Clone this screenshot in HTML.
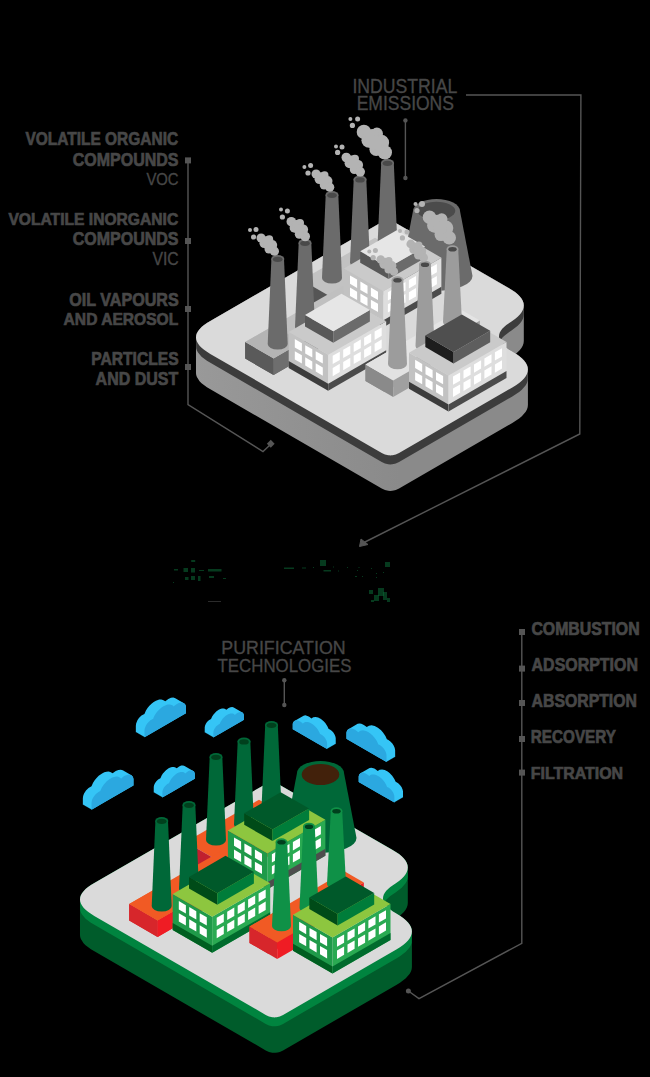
<!DOCTYPE html>
<html><head><meta charset="utf-8"><style>
html,body{margin:0;padding:0;background:#000;width:650px;height:1077px;overflow:hidden}
svg{position:absolute;left:0;top:0}
</style></head><body>
<svg width="650" height="1077" viewBox="0 0 650 1077">
<defs><linearGradient id="gside" gradientUnits="userSpaceOnUse" x1="180" y1="0" x2="400" y2="0"><stop offset="0" stop-color="#9a9a9a"/><stop offset="1" stop-color="#8a8a8a"/></linearGradient></defs>
<path d="M195.99,337.40 L195.99,372.90 L196.21,374.96 L196.88,377.03 L199.56,381.15 L201.57,383.21 L206.93,387.34 L381.74,488.40 L384.99,489.92 L388.23,490.74 L390.40,490.90 L393.65,490.55 L395.81,489.92 L399.06,488.40 L512.32,423.00 L519.14,418.50 L521.82,416.25 L525.72,411.75 L526.94,409.50 L527.67,407.25 L527.91,405.00 L527.91,369.50 L527.67,367.25 L526.94,365.00 L525.72,362.75 L524.01,360.50 L521.82,358.25 L515.98,353.75 L519.89,350.07 L521.60,347.83 L522.82,345.58 L523.55,343.34 L523.80,341.09 L523.80,305.59 L523.56,303.35 L522.83,301.10 L521.61,298.86 L517.71,294.37 L511.86,289.88 L508.20,287.63 L396.67,223.39 L393.42,221.87 L390.17,221.05 L386.92,220.94 L384.75,221.25 L382.59,221.87 L379.34,223.40 L206.94,322.97 L201.58,327.09 L199.57,329.16 L196.88,333.28 L196.21,335.34 L195.99,337.40Z " fill="url(#gside)"/>
<path d="M195.99,341.90 L196.21,348.46 L196.88,350.53 L198.00,352.59 L201.57,356.71 L206.93,360.84 L381.74,461.90 L384.99,463.42 L388.23,464.24 L390.40,464.40 L393.65,464.05 L395.81,463.42 L399.06,461.90 L512.32,396.50 L519.14,392.00 L521.82,389.75 L525.72,385.25 L526.94,383.00 L527.67,380.75 L527.91,369.50 L527.67,367.25 L526.94,365.00 L525.72,362.75 L524.01,360.50 L519.14,356.00 L508.94,349.43 L504.07,345.68 L502.24,343.80 L500.22,340.82 L502.25,337.83 L504.08,335.96 L508.96,332.22 L512.01,330.35 L508.19,332.54 L511.85,330.30 L517.70,325.81 L519.89,323.57 L521.60,321.33 L522.82,319.08 L523.55,316.84 L523.80,314.59 L523.56,303.35 L522.83,301.10 L521.61,298.86 L519.90,296.61 L515.03,292.12 L508.20,287.63 L396.67,223.39 L393.42,221.87 L390.17,221.05 L386.92,220.94 L384.75,221.25 L382.59,221.87 L379.34,223.40 L206.94,322.97 L201.58,327.09 L198.00,331.22 L196.88,333.28 L196.21,335.34 L195.99,341.90Z " fill="#3c3c3c"/>
<path d="M379.34,223.40 L380.42,222.81 L381.50,222.30 L382.59,221.87 L383.67,221.52 L384.75,221.25 L385.83,221.05 L386.92,220.94 L388.00,220.90 L389.08,220.94 L390.17,221.05 L391.25,221.25 L392.33,221.52 L393.42,221.87 L394.50,222.30 L395.58,222.81 L396.67,223.39 L508.20,287.63 L511.86,289.88 L515.03,292.12 L517.71,294.37 L519.90,296.61 L521.61,298.86 L522.83,301.10 L523.56,303.35 L523.80,305.59 L523.55,307.84 L522.82,310.08 L521.60,312.33 L519.89,314.57 L517.70,316.81 L515.02,319.06 L511.85,321.30 L508.19,323.54 L512.01,321.35 L508.96,323.22 L506.32,325.09 L504.08,326.96 L502.25,328.83 L500.83,330.70 L499.81,332.57 L499.20,334.44 L499.00,336.31 L499.20,338.18 L499.81,340.06 L500.82,341.93 L502.24,343.80 L504.07,345.68 L506.30,347.55 L508.94,349.43 L511.98,351.30 L512.32,351.50 L515.98,353.75 L519.14,356.00 L521.82,358.25 L524.01,360.50 L525.72,362.75 L526.94,365.00 L527.67,367.25 L527.91,369.50 L527.67,371.75 L526.94,374.00 L525.72,376.25 L524.01,378.50 L521.82,380.75 L519.14,383.00 L515.98,385.25 L512.32,387.50 L399.06,452.90 L397.98,453.49 L396.90,453.99 L395.81,454.42 L394.73,454.77 L393.65,455.05 L392.57,455.24 L391.48,455.36 L390.40,455.40 L389.32,455.36 L388.23,455.24 L387.15,455.05 L386.07,454.77 L384.99,454.42 L383.90,453.99 L382.82,453.49 L381.74,452.90 L210.28,353.90 L206.93,351.84 L204.03,349.78 L201.57,347.71 L199.56,345.65 L198.00,343.59 L196.88,341.53 L196.21,339.46 L195.99,337.40 L196.21,335.34 L196.88,333.28 L198.00,331.22 L199.57,329.16 L201.58,327.09 L204.03,325.03 L206.94,322.97 L210.29,320.91 L379.34,223.40Z " fill="#dadada"/>
<polygon points="301.7,280.0 375.0,237.7 428.7,268.7 355.4,311.0" fill="#c2c2c2"/>
<polygon points="301.7,280.0 355.4,311.0 355.4,331.0 301.7,300.0" fill="#555555"/>
<path d="M413.0,211.0 L400.5,276.0 A36.0,15.0 0 0 0 472.5,276.0 L460.0,211.0 Z" fill="#6b6b6b"/>
<ellipse cx="436.5" cy="211.0" rx="23.5" ry="12.0" fill="#6b6b6b"/>
<ellipse cx="436.5" cy="210.8" rx="18.8" ry="9.0" fill="#4b4b4b"/>
<polygon points="273.6,375.0 245.2,358.6 245.2,342.1 273.6,358.5" fill="#5a5a5a"/>
<polygon points="273.6,375.0 371.3,318.6 371.3,302.1 273.6,358.5" fill="#6e6e6e"/>
<polygon points="273.6,358.5 245.2,342.1 342.9,285.7 371.3,302.1" fill="#c0c0c0"/>
<path d="M325.7,195.0 L322.0,278.0 A10.0,5.6 0 0 0 342.0,278.0 L338.3,195.0 Z" fill="#6b6b6b"/>
<ellipse cx="332.0" cy="195.0" rx="6.6" ry="4.0" fill="#6b6b6b"/>
<ellipse cx="332.0" cy="195.3" rx="4.8" ry="2.6" fill="#494949"/>
<path d="M353.7,179.6 L350.0,262.6 A10.0,5.6 0 0 0 370.0,262.6 L366.3,179.6 Z" fill="#6b6b6b"/>
<ellipse cx="360.0" cy="179.6" rx="6.6" ry="4.0" fill="#6b6b6b"/>
<ellipse cx="360.0" cy="179.9" rx="4.8" ry="2.6" fill="#494949"/>
<path d="M381.2,163.0 L377.5,246.0 A10.0,5.6 0 0 0 397.5,246.0 L393.8,163.0 Z" fill="#6b6b6b"/>
<ellipse cx="387.5" cy="163.0" rx="6.6" ry="4.0" fill="#6b6b6b"/>
<ellipse cx="387.5" cy="163.3" rx="4.8" ry="2.6" fill="#494949"/>
<polygon points="383.4,327.2 343.9,304.4 343.9,268.4 383.4,291.2" fill="#c2c2c2"/>
<polygon points="383.4,327.2 343.9,304.4 343.9,297.4 383.4,320.2" fill="#3c3c3c"/>
<polygon points="383.4,327.2 441.4,293.7 441.4,257.7 383.4,291.2" fill="#dedede"/>
<polygon points="383.4,327.2 441.4,293.7 441.4,286.7 383.4,320.2" fill="#4b4b4b"/>
<polygon points="383.4,291.2 343.9,268.4 401.9,234.9 441.4,257.7" fill="#cacaca"/>
<polygon points="350.0,275.5 357.1,279.6 357.1,287.9 350.0,283.8" fill="#ffffff"/>
<polygon points="360.4,281.6 367.5,285.7 367.5,294.0 360.4,289.9" fill="#ffffff"/>
<polygon points="370.9,287.6 378.0,291.7 378.0,300.0 370.9,295.9" fill="#ffffff"/>
<polygon points="350.0,287.6 357.1,291.7 357.1,300.0 350.0,295.9" fill="#ffffff"/>
<polygon points="360.4,293.6 367.5,297.8 367.5,306.1 360.4,301.9" fill="#ffffff"/>
<polygon points="370.9,299.7 378.0,303.8 378.0,312.1 370.9,308.0" fill="#ffffff"/>
<polygon points="387.9,292.2 395.0,288.1 395.0,296.4 387.9,300.5" fill="#ffffff"/>
<polygon points="398.4,286.2 405.5,282.1 405.5,290.4 398.4,294.5" fill="#ffffff"/>
<polygon points="408.9,280.1 416.0,276.0 416.0,284.3 408.9,288.4" fill="#ffffff"/>
<polygon points="419.3,274.1 426.4,269.9 426.4,278.2 419.3,282.4" fill="#ffffff"/>
<polygon points="429.8,268.0 436.9,263.9 436.9,272.2 429.8,276.3" fill="#ffffff"/>
<polygon points="387.9,304.3 395.0,300.2 395.0,308.5 387.9,312.6" fill="#ffffff"/>
<polygon points="398.4,298.2 405.5,294.1 405.5,302.4 398.4,306.6" fill="#ffffff"/>
<polygon points="408.9,292.2 416.0,288.1 416.0,296.4 408.9,300.5" fill="#ffffff"/>
<polygon points="419.3,286.1 426.4,282.0 426.4,290.3 419.3,294.4" fill="#ffffff"/>
<polygon points="429.8,280.1 436.9,276.0 436.9,284.3 429.8,288.4" fill="#ffffff"/>
<polygon points="388.5,279.1 360.2,262.8 360.2,251.3 388.5,267.6" fill="#585858"/>
<polygon points="388.5,279.1 425.1,258.0 425.1,246.5 388.5,267.6" fill="#6b6b6b"/>
<polygon points="388.5,267.6 360.2,251.3 396.7,230.2 425.1,246.5" fill="#e6e6e6"/>
<polygon points="273.6,375.0 245.2,358.6 245.2,342.1 273.6,358.5" fill="#5a5a5a"/>
<polygon points="273.6,375.0 302.0,358.6 302.0,342.1 273.6,358.5" fill="#6e6e6e"/>
<polygon points="273.6,358.5 245.2,342.1 273.6,325.7 302.0,342.1" fill="#b4b4b4"/>
<path d="M271.4,259.0 L267.7,344.0 A10.0,5.6 0 0 0 287.7,344.0 L284.0,259.0 Z" fill="#6b6b6b"/>
<ellipse cx="277.7" cy="259.0" rx="6.6" ry="4.0" fill="#6b6b6b"/>
<ellipse cx="277.7" cy="259.3" rx="4.8" ry="2.6" fill="#494949"/>
<path d="M298.7,243.0 L295.0,327.0 A10.0,5.6 0 0 0 315.0,327.0 L311.3,243.0 Z" fill="#6b6b6b"/>
<ellipse cx="305.0" cy="243.0" rx="6.6" ry="4.0" fill="#6b6b6b"/>
<ellipse cx="305.0" cy="243.3" rx="4.8" ry="2.6" fill="#494949"/>
<polygon points="328.2,390.8 288.7,368.0 288.7,332.0 328.2,354.8" fill="#c2c2c2"/>
<polygon points="328.2,390.8 288.7,368.0 288.7,361.0 328.2,383.8" fill="#3c3c3c"/>
<polygon points="328.2,390.8 386.2,357.3 386.2,321.3 328.2,354.8" fill="#dedede"/>
<polygon points="328.2,390.8 386.2,357.3 386.2,350.3 328.2,383.8" fill="#4b4b4b"/>
<polygon points="328.2,354.8 288.7,332.0 346.7,298.5 386.2,321.3" fill="#cacaca"/>
<polygon points="294.8,339.1 301.9,343.2 301.9,351.5 294.8,347.4" fill="#ffffff"/>
<polygon points="305.2,345.2 312.3,349.3 312.3,357.6 305.2,353.5" fill="#ffffff"/>
<polygon points="315.7,351.2 322.8,355.3 322.8,363.6 315.7,359.5" fill="#ffffff"/>
<polygon points="294.8,351.2 301.9,355.3 301.9,363.6 294.8,359.5" fill="#ffffff"/>
<polygon points="305.2,357.2 312.3,361.4 312.3,369.7 305.2,365.6" fill="#ffffff"/>
<polygon points="315.7,363.3 322.8,367.4 322.8,375.7 315.7,371.6" fill="#ffffff"/>
<polygon points="332.7,355.8 339.8,351.7 339.8,360.0 332.7,364.1" fill="#ffffff"/>
<polygon points="343.2,349.8 350.3,345.7 350.3,354.0 343.2,358.1" fill="#ffffff"/>
<polygon points="353.7,343.7 360.8,339.6 360.8,347.9 353.7,352.0" fill="#ffffff"/>
<polygon points="364.1,337.7 371.2,333.6 371.2,341.9 364.1,346.0" fill="#ffffff"/>
<polygon points="374.6,331.6 381.7,327.5 381.7,335.8 374.6,339.9" fill="#ffffff"/>
<polygon points="332.7,367.9 339.8,363.8 339.8,372.1 332.7,376.2" fill="#ffffff"/>
<polygon points="343.2,361.9 350.3,357.8 350.3,366.1 343.2,370.2" fill="#ffffff"/>
<polygon points="353.7,355.8 360.8,351.7 360.8,360.0 353.7,364.1" fill="#ffffff"/>
<polygon points="364.1,349.8 371.2,345.6 371.2,353.9 364.1,358.1" fill="#ffffff"/>
<polygon points="374.6,343.7 381.7,339.6 381.7,347.9 374.6,352.0" fill="#ffffff"/>
<polygon points="333.3,342.8 305.0,326.4 305.0,314.9 333.3,331.2" fill="#585858"/>
<polygon points="333.3,342.8 369.9,321.6 369.9,310.1 333.3,331.2" fill="#6b6b6b"/>
<polygon points="333.3,331.2 305.0,314.9 341.5,293.8 369.9,310.1" fill="#e6e6e6"/>
<polygon points="384.6,392.0 365.5,381.0 365.5,364.5 384.6,375.5" fill="#8a8a8a"/>
<polygon points="384.6,392.0 479.8,337.0 479.8,320.5 384.6,375.5" fill="#a0a0a0"/>
<polygon points="384.6,375.5 365.5,364.5 460.8,309.5 479.8,320.5" fill="#e4e4e4"/>
<path d="M446.8,249.0 L443.0,322.0 A9.5,5.3 0 0 0 462.0,322.0 L458.2,249.0 Z" fill="#9c9c9c"/>
<ellipse cx="452.5" cy="249.0" rx="6.0" ry="3.7" fill="#9c9c9c"/>
<ellipse cx="452.5" cy="249.3" rx="4.2" ry="2.3" fill="#494949"/>
<path d="M419.2,264.4 L415.5,346.0 A9.5,5.3 0 0 0 434.5,346.0 L430.8,264.4 Z" fill="#9c9c9c"/>
<ellipse cx="425.0" cy="264.4" rx="6.0" ry="3.7" fill="#9c9c9c"/>
<ellipse cx="425.0" cy="264.7" rx="4.2" ry="2.3" fill="#494949"/>
<polygon points="393.2,397.0 365.5,381.0 365.5,364.5 393.2,380.5" fill="#8a8a8a"/>
<polygon points="393.2,397.0 420.9,381.0 420.9,364.5 393.2,380.5" fill="#a0a0a0"/>
<polygon points="393.2,380.5 365.5,364.5 393.2,348.5 420.9,364.5" fill="#e2e2e2"/>
<path d="M391.8,280.0 L388.0,364.0 A9.5,5.3 0 0 0 407.0,364.0 L403.2,280.0 Z" fill="#9c9c9c"/>
<ellipse cx="397.5" cy="280.0" rx="6.0" ry="3.7" fill="#9c9c9c"/>
<ellipse cx="397.5" cy="280.3" rx="4.2" ry="2.3" fill="#494949"/>
<polygon points="448.5,411.5 409.0,388.7 409.0,352.7 448.5,375.5" fill="#c2c2c2"/>
<polygon points="448.5,411.5 409.0,388.7 409.0,381.7 448.5,404.5" fill="#3c3c3c"/>
<polygon points="448.5,411.5 506.5,378.0 506.5,342.0 448.5,375.5" fill="#dedede"/>
<polygon points="448.5,411.5 506.5,378.0 506.5,371.0 448.5,404.5" fill="#4b4b4b"/>
<polygon points="448.5,375.5 409.0,352.7 467.0,319.2 506.5,342.0" fill="#cacaca"/>
<polygon points="415.1,359.8 422.2,363.9 422.2,372.2 415.1,368.1" fill="#ffffff"/>
<polygon points="425.5,365.9 432.6,370.0 432.6,378.3 425.5,374.2" fill="#ffffff"/>
<polygon points="436.0,371.9 443.1,376.0 443.1,384.3 436.0,380.2" fill="#ffffff"/>
<polygon points="415.1,371.9 422.2,376.0 422.2,384.3 415.1,380.2" fill="#ffffff"/>
<polygon points="425.5,377.9 432.6,382.1 432.6,390.4 425.5,386.2" fill="#ffffff"/>
<polygon points="436.0,384.0 443.1,388.1 443.1,396.4 436.0,392.3" fill="#ffffff"/>
<polygon points="453.0,376.5 460.1,372.4 460.1,380.7 453.0,384.8" fill="#ffffff"/>
<polygon points="463.5,370.5 470.6,366.4 470.6,374.7 463.5,378.8" fill="#ffffff"/>
<polygon points="474.0,364.4 481.1,360.3 481.1,368.6 474.0,372.7" fill="#ffffff"/>
<polygon points="484.4,358.4 491.5,354.2 491.5,362.6 484.4,366.7" fill="#ffffff"/>
<polygon points="494.9,352.3 502.0,348.2 502.0,356.5 494.9,360.6" fill="#ffffff"/>
<polygon points="453.0,388.6 460.1,384.5 460.1,392.8 453.0,396.9" fill="#ffffff"/>
<polygon points="463.5,382.6 470.6,378.4 470.6,386.8 463.5,390.9" fill="#ffffff"/>
<polygon points="474.0,376.5 481.1,372.4 481.1,380.7 474.0,384.8" fill="#ffffff"/>
<polygon points="484.4,370.4 491.5,366.3 491.5,374.6 484.4,378.8" fill="#ffffff"/>
<polygon points="494.9,364.4 502.0,360.3 502.0,368.6 494.9,372.7" fill="#ffffff"/>
<polygon points="453.6,363.4 425.3,347.1 425.3,335.6 453.6,351.9" fill="#1d1d1d"/>
<polygon points="453.6,363.4 490.2,342.3 490.2,330.8 453.6,351.9" fill="#5e5e5e"/>
<polygon points="453.6,351.9 425.3,335.6 461.8,314.5 490.2,330.8" fill="#4f4f4f"/>
<circle cx="250.0" cy="230.0" r="2.0" fill="#b3b3b3"/>
<circle cx="256.0" cy="229.6" r="2.5" fill="#b3b3b3"/>
<circle cx="253.6" cy="237.0" r="2.6" fill="#b3b3b3"/>
<circle cx="261.1" cy="238.1" r="4.6" fill="#b3b3b3"/>
<circle cx="269.3" cy="239.2" r="3.9" fill="#b3b3b3"/>
<circle cx="264.3" cy="243.3" r="4.8" fill="#b3b3b3"/>
<circle cx="272.1" cy="245.0" r="5.1" fill="#b3b3b3"/>
<circle cx="274.4" cy="251.2" r="4.6" fill="#b3b3b3"/>
<circle cx="268.9" cy="249.1" r="4.4" fill="#b3b3b3"/>
<circle cx="266.4" cy="240.6" r="4.4" fill="#b3b3b3"/>
<circle cx="268.0" cy="245.0" r="4.6" fill="#b3b3b3"/>
<circle cx="281.0" cy="209.6" r="2.0" fill="#b3b3b3"/>
<circle cx="287.4" cy="211.0" r="2.5" fill="#b3b3b3"/>
<circle cx="282.4" cy="217.0" r="2.6" fill="#b3b3b3"/>
<circle cx="291.3" cy="221.7" r="4.8" fill="#b3b3b3"/>
<circle cx="299.9" cy="223.0" r="4.1" fill="#b3b3b3"/>
<circle cx="294.6" cy="227.7" r="5.0" fill="#b3b3b3"/>
<circle cx="302.8" cy="229.5" r="5.3" fill="#b3b3b3"/>
<circle cx="305.2" cy="236.5" r="4.8" fill="#b3b3b3"/>
<circle cx="299.4" cy="234.2" r="4.6" fill="#b3b3b3"/>
<circle cx="296.8" cy="224.6" r="4.6" fill="#b3b3b3"/>
<circle cx="298.5" cy="229.5" r="4.8" fill="#b3b3b3"/>
<circle cx="304.4" cy="167.0" r="2.0" fill="#b3b3b3"/>
<circle cx="310.6" cy="165.6" r="2.5" fill="#b3b3b3"/>
<circle cx="308.0" cy="173.0" r="2.6" fill="#b3b3b3"/>
<circle cx="316.1" cy="174.1" r="4.6" fill="#b3b3b3"/>
<circle cx="324.6" cy="175.2" r="3.9" fill="#b3b3b3"/>
<circle cx="319.4" cy="179.3" r="4.8" fill="#b3b3b3"/>
<circle cx="327.4" cy="181.0" r="5.1" fill="#b3b3b3"/>
<circle cx="329.7" cy="187.2" r="4.6" fill="#b3b3b3"/>
<circle cx="324.1" cy="185.1" r="4.4" fill="#b3b3b3"/>
<circle cx="321.5" cy="176.6" r="4.4" fill="#b3b3b3"/>
<circle cx="323.2" cy="181.0" r="4.6" fill="#b3b3b3"/>
<circle cx="336.0" cy="146.6" r="2.0" fill="#b3b3b3"/>
<circle cx="342.0" cy="147.0" r="2.5" fill="#b3b3b3"/>
<circle cx="337.6" cy="152.4" r="2.6" fill="#b3b3b3"/>
<circle cx="346.3" cy="157.5" r="4.8" fill="#b3b3b3"/>
<circle cx="354.9" cy="158.8" r="4.1" fill="#b3b3b3"/>
<circle cx="349.6" cy="163.2" r="5.0" fill="#b3b3b3"/>
<circle cx="357.8" cy="165.0" r="5.3" fill="#b3b3b3"/>
<circle cx="360.2" cy="171.8" r="4.8" fill="#b3b3b3"/>
<circle cx="354.4" cy="169.5" r="4.6" fill="#b3b3b3"/>
<circle cx="351.8" cy="160.2" r="4.6" fill="#b3b3b3"/>
<circle cx="353.5" cy="165.0" r="4.8" fill="#b3b3b3"/>
<circle cx="350.4" cy="119.0" r="2.0" fill="#b3b3b3"/>
<circle cx="357.6" cy="119.0" r="2.5" fill="#b3b3b3"/>
<circle cx="352.4" cy="125.4" r="2.6" fill="#b3b3b3"/>
<circle cx="363.9" cy="131.9" r="7.2" fill="#b3b3b3"/>
<circle cx="376.9" cy="133.7" r="6.1" fill="#b3b3b3"/>
<circle cx="369.0" cy="140.2" r="7.6" fill="#b3b3b3"/>
<circle cx="381.2" cy="142.7" r="7.9" fill="#b3b3b3"/>
<circle cx="384.8" cy="152.4" r="7.2" fill="#b3b3b3"/>
<circle cx="376.2" cy="149.2" r="6.8" fill="#b3b3b3"/>
<circle cx="372.2" cy="135.9" r="6.8" fill="#b3b3b3"/>
<circle cx="374.7" cy="142.7" r="7.2" fill="#b3b3b3"/>
<circle cx="415.5" cy="203.9" r="2.0" fill="#b3b3b3"/>
<circle cx="422.0" cy="203.9" r="3.0" fill="#b3b3b3"/>
<circle cx="417.0" cy="210.5" r="2.6" fill="#b3b3b3"/>
<circle cx="429.5" cy="217.3" r="6.8" fill="#b3b3b3"/>
<circle cx="441.7" cy="219.1" r="5.8" fill="#b3b3b3"/>
<circle cx="434.2" cy="225.6" r="7.1" fill="#b3b3b3"/>
<circle cx="445.8" cy="228.1" r="7.5" fill="#b3b3b3"/>
<circle cx="449.2" cy="237.8" r="6.8" fill="#b3b3b3"/>
<circle cx="441.0" cy="234.6" r="6.5" fill="#b3b3b3"/>
<circle cx="437.3" cy="221.3" r="6.5" fill="#b3b3b3"/>
<circle cx="439.7" cy="228.1" r="6.8" fill="#b3b3b3"/>
<circle cx="369.3" cy="251.5" r="2.0" fill="#b3b3b3"/>
<circle cx="375.4" cy="250.6" r="2.5" fill="#b3b3b3"/>
<circle cx="373.2" cy="257.7" r="2.6" fill="#b3b3b3"/>
<circle cx="380.7" cy="259.5" r="4.2" fill="#b3b3b3"/>
<circle cx="388.9" cy="260.5" r="3.6" fill="#b3b3b3"/>
<circle cx="383.9" cy="264.3" r="4.5" fill="#b3b3b3"/>
<circle cx="391.7" cy="265.8" r="4.7" fill="#b3b3b3"/>
<circle cx="393.9" cy="271.5" r="4.2" fill="#b3b3b3"/>
<circle cx="388.5" cy="269.6" r="4.0" fill="#b3b3b3"/>
<circle cx="386.0" cy="261.8" r="4.0" fill="#b3b3b3"/>
<circle cx="387.6" cy="265.8" r="4.2" fill="#b3b3b3"/>
<circle cx="400.0" cy="231.0" r="2.0" fill="#b3b3b3"/>
<circle cx="407.0" cy="232.0" r="2.5" fill="#b3b3b3"/>
<circle cx="402.4" cy="237.9" r="2.6" fill="#b3b3b3"/>
<circle cx="410.8" cy="244.0" r="4.4" fill="#b3b3b3"/>
<circle cx="418.8" cy="245.2" r="3.7" fill="#b3b3b3"/>
<circle cx="413.9" cy="249.5" r="4.6" fill="#b3b3b3"/>
<circle cx="421.4" cy="251.1" r="4.8" fill="#b3b3b3"/>
<circle cx="423.6" cy="257.5" r="4.4" fill="#b3b3b3"/>
<circle cx="418.3" cy="255.4" r="4.2" fill="#b3b3b3"/>
<circle cx="415.9" cy="246.6" r="4.2" fill="#b3b3b3"/>
<circle cx="417.4" cy="251.1" r="4.4" fill="#b3b3b3"/>
<path d="M79.99,899.40 L79.99,934.90 L80.21,936.96 L80.88,939.03 L83.56,943.15 L85.57,945.21 L90.93,949.34 L265.74,1050.40 L268.99,1051.92 L272.23,1052.74 L275.48,1052.86 L277.65,1052.55 L279.81,1051.92 L283.06,1050.40 L396.32,985.00 L399.98,982.75 L405.82,978.25 L409.72,973.75 L410.94,971.50 L411.67,969.25 L411.91,967.00 L411.91,931.50 L411.67,929.25 L410.94,927.00 L409.72,924.75 L408.01,922.50 L405.82,920.25 L399.98,915.75 L403.89,912.07 L405.60,909.83 L406.82,907.58 L407.55,905.34 L407.80,903.09 L407.80,867.59 L407.56,865.35 L406.83,863.10 L405.61,860.86 L401.71,856.37 L395.86,851.88 L392.20,849.63 L280.67,785.39 L277.42,783.87 L274.17,783.05 L272.00,782.90 L268.75,783.25 L265.50,784.30 L263.34,785.40 L90.94,884.97 L88.03,887.03 L83.57,891.16 L80.88,895.28 L80.21,897.34 L79.99,899.40Z " fill="#005c2b"/>
<path d="M79.99,903.90 L80.21,910.46 L80.88,912.53 L82.00,914.59 L85.57,918.71 L90.93,922.84 L265.74,1023.90 L268.99,1025.42 L272.23,1026.24 L275.48,1026.36 L277.65,1026.05 L279.81,1025.42 L283.06,1023.90 L396.32,958.50 L399.98,956.25 L405.82,951.75 L409.72,947.25 L410.94,945.00 L411.67,942.75 L411.91,931.50 L411.67,929.25 L410.94,927.00 L409.72,924.75 L408.01,922.50 L403.14,918.00 L392.94,911.43 L388.07,907.68 L386.24,905.80 L384.22,902.82 L386.25,899.83 L388.08,897.96 L390.32,896.09 L396.01,892.35 L392.19,894.54 L395.85,892.30 L401.70,887.81 L405.60,883.33 L406.82,881.08 L407.55,878.84 L407.80,876.59 L407.56,865.35 L406.83,863.10 L405.61,860.86 L403.90,858.61 L399.03,854.12 L392.20,849.63 L280.67,785.39 L277.42,783.87 L274.17,783.05 L272.00,782.90 L268.75,783.25 L265.50,784.30 L263.34,785.40 L90.94,884.97 L85.58,889.09 L82.00,893.22 L80.88,895.28 L80.21,897.34 L79.99,903.90Z " fill="#00843f"/>
<path d="M263.34,785.40 L264.42,784.81 L265.50,784.30 L266.59,783.87 L267.67,783.52 L268.75,783.25 L269.83,783.05 L270.92,782.94 L272.00,782.90 L273.08,782.94 L274.17,783.05 L275.25,783.25 L276.33,783.52 L277.42,783.87 L278.50,784.30 L279.58,784.81 L280.67,785.39 L392.20,849.63 L395.86,851.88 L399.03,854.12 L401.71,856.37 L403.90,858.61 L405.61,860.86 L406.83,863.10 L407.56,865.35 L407.80,867.59 L407.55,869.84 L406.82,872.08 L405.60,874.33 L403.89,876.57 L401.70,878.81 L399.02,881.06 L395.85,883.30 L392.19,885.54 L396.01,883.35 L392.96,885.22 L390.32,887.09 L388.08,888.96 L386.25,890.83 L384.83,892.70 L383.81,894.57 L383.20,896.44 L383.00,898.31 L383.20,900.18 L383.81,902.06 L384.82,903.93 L386.24,905.80 L388.07,907.68 L390.30,909.55 L392.94,911.43 L395.98,913.30 L396.32,913.50 L399.98,915.75 L403.14,918.00 L405.82,920.25 L408.01,922.50 L409.72,924.75 L410.94,927.00 L411.67,929.25 L411.91,931.50 L411.67,933.75 L410.94,936.00 L409.72,938.25 L408.01,940.50 L405.82,942.75 L403.14,945.00 L399.98,947.25 L396.32,949.50 L283.06,1014.90 L281.98,1015.49 L280.90,1015.99 L279.81,1016.42 L278.73,1016.77 L277.65,1017.05 L276.57,1017.24 L275.48,1017.36 L274.40,1017.40 L273.32,1017.36 L272.23,1017.24 L271.15,1017.05 L270.07,1016.77 L268.99,1016.42 L267.90,1015.99 L266.82,1015.49 L265.74,1014.90 L94.28,915.90 L90.93,913.84 L88.03,911.78 L85.57,909.71 L83.56,907.65 L82.00,905.59 L80.88,903.53 L80.21,901.46 L79.99,899.40 L80.21,897.34 L80.88,895.28 L82.00,893.22 L83.57,891.16 L85.58,889.09 L88.03,887.03 L90.94,884.97 L94.29,882.91 L263.34,785.40Z " fill="#dadada"/>
<polygon points="185.7,842.0 259.0,799.7 312.7,830.7 239.4,873.0" fill="#f15a24"/>
<polygon points="185.7,842.0 239.4,873.0 239.4,893.0 185.7,862.0" fill="#c0202f"/>
<path d="M297.0,773.0 L284.5,838.0 A36.0,15.0 0 0 0 356.5,838.0 L344.0,773.0 Z" fill="#006838"/>
<ellipse cx="320.5" cy="773.0" rx="23.5" ry="12.0" fill="#006838"/>
<ellipse cx="320.5" cy="774.5" rx="18.8" ry="10.6" fill="#42210b"/>
<polygon points="157.6,937.0 129.2,920.6 129.2,904.1 157.6,920.5" fill="#d7262b"/>
<polygon points="157.6,937.0 255.3,880.6 255.3,864.1 157.6,920.5" fill="#ef1c24"/>
<polygon points="157.6,920.5 129.2,904.1 226.9,847.7 255.3,864.1" fill="#f15a24"/>
<path d="M209.7,757.0 L206.0,840.0 A10.0,5.6 0 0 0 226.0,840.0 L222.3,757.0 Z" fill="#006838"/>
<ellipse cx="216.0" cy="757.0" rx="6.6" ry="4.0" fill="#006838"/>
<ellipse cx="216.0" cy="757.3" rx="4.8" ry="2.6" fill="#00401d"/>
<path d="M237.7,741.6 L234.0,824.6 A10.0,5.6 0 0 0 254.0,824.6 L250.3,741.6 Z" fill="#006838"/>
<ellipse cx="244.0" cy="741.6" rx="6.6" ry="4.0" fill="#006838"/>
<ellipse cx="244.0" cy="741.9" rx="4.8" ry="2.6" fill="#00401d"/>
<path d="M265.2,725.0 L261.5,808.0 A10.0,5.6 0 0 0 281.5,808.0 L277.8,725.0 Z" fill="#006838"/>
<ellipse cx="271.5" cy="725.0" rx="6.6" ry="4.0" fill="#006838"/>
<ellipse cx="271.5" cy="725.3" rx="4.8" ry="2.6" fill="#00401d"/>
<polygon points="267.4,889.2 227.9,866.4 227.9,830.4 267.4,853.2" fill="#1f9a49"/>
<polygon points="267.4,889.2 227.9,866.4 227.9,859.4 267.4,882.2" fill="#005e20"/>
<polygon points="267.4,889.2 325.4,855.7 325.4,819.7 267.4,853.2" fill="#2aaa52"/>
<polygon points="267.4,889.2 325.4,855.7 325.4,848.7 267.4,882.2" fill="#4d4d4d"/>
<polygon points="267.4,853.2 227.9,830.4 285.9,796.9 325.4,819.7" fill="#8dc63f"/>
<polygon points="234.0,837.5 241.1,841.6 241.1,849.9 234.0,845.8" fill="#ffffff"/>
<polygon points="244.4,843.5 251.5,847.6 251.5,855.9 244.4,851.8" fill="#ffffff"/>
<polygon points="254.9,849.6 262.0,853.7 262.0,862.0 254.9,857.9" fill="#ffffff"/>
<polygon points="234.0,849.6 241.1,853.7 241.1,862.0 234.0,857.9" fill="#ffffff"/>
<polygon points="244.4,855.6 251.5,859.8 251.5,868.0 244.4,863.9" fill="#ffffff"/>
<polygon points="254.9,861.7 262.0,865.8 262.0,874.1 254.9,870.0" fill="#ffffff"/>
<polygon points="271.9,854.2 279.0,850.1 279.0,858.4 271.9,862.5" fill="#ffffff"/>
<polygon points="282.4,848.1 289.5,844.0 289.5,852.3 282.4,856.4" fill="#ffffff"/>
<polygon points="292.9,842.1 300.0,838.0 300.0,846.3 292.9,850.4" fill="#ffffff"/>
<polygon points="303.3,836.0 310.4,831.9 310.4,840.2 303.3,844.3" fill="#ffffff"/>
<polygon points="313.8,830.0 320.9,825.9 320.9,834.2 313.8,838.3" fill="#ffffff"/>
<polygon points="271.9,866.3 279.0,862.2 279.0,870.5 271.9,874.6" fill="#ffffff"/>
<polygon points="282.4,860.2 289.5,856.1 289.5,864.4 282.4,868.5" fill="#ffffff"/>
<polygon points="292.9,854.2 300.0,850.1 300.0,858.4 292.9,862.5" fill="#ffffff"/>
<polygon points="303.3,848.1 310.4,844.0 310.4,852.3 303.3,856.4" fill="#ffffff"/>
<polygon points="313.8,842.1 320.9,838.0 320.9,846.3 313.8,850.4" fill="#ffffff"/>
<polygon points="272.5,841.1 244.2,824.8 244.2,813.3 272.5,829.6" fill="#004b18"/>
<polygon points="272.5,841.1 309.1,820.0 309.1,808.5 272.5,829.6" fill="#007d3a"/>
<polygon points="272.5,829.6 244.2,813.3 280.7,792.2 309.1,808.5" fill="#00592a"/>
<polygon points="157.6,937.0 129.2,920.6 129.2,904.1 157.6,920.5" fill="#d7262b"/>
<polygon points="157.6,937.0 186.0,920.6 186.0,904.1 157.6,920.5" fill="#ef1c24"/>
<polygon points="157.6,920.5 129.2,904.1 157.6,887.7 186.0,904.1" fill="#f15a24"/>
<path d="M155.4,821.0 L151.7,906.0 A10.0,5.6 0 0 0 171.7,906.0 L168.0,821.0 Z" fill="#006838"/>
<ellipse cx="161.7" cy="821.0" rx="6.6" ry="4.0" fill="#006838"/>
<ellipse cx="161.7" cy="821.3" rx="4.8" ry="2.6" fill="#00401d"/>
<path d="M182.7,805.0 L179.0,889.0 A10.0,5.6 0 0 0 199.0,889.0 L195.3,805.0 Z" fill="#006838"/>
<ellipse cx="189.0" cy="805.0" rx="6.6" ry="4.0" fill="#006838"/>
<ellipse cx="189.0" cy="805.3" rx="4.8" ry="2.6" fill="#00401d"/>
<polygon points="212.2,952.8 172.7,930.0 172.7,894.0 212.2,916.8" fill="#1f9a49"/>
<polygon points="212.2,952.8 172.7,930.0 172.7,923.0 212.2,945.8" fill="#005e20"/>
<polygon points="212.2,952.8 270.2,919.3 270.2,883.3 212.2,916.8" fill="#2aaa52"/>
<polygon points="212.2,952.8 270.2,919.3 270.2,912.3 212.2,945.8" fill="#006b2d"/>
<polygon points="212.2,916.8 172.7,894.0 230.7,860.5 270.2,883.3" fill="#8dc63f"/>
<polygon points="178.8,901.1 185.9,905.2 185.9,913.5 178.8,909.4" fill="#ffffff"/>
<polygon points="189.2,907.1 196.3,911.2 196.3,919.5 189.2,915.4" fill="#ffffff"/>
<polygon points="199.7,913.2 206.8,917.3 206.8,925.6 199.7,921.5" fill="#ffffff"/>
<polygon points="178.8,913.2 185.9,917.3 185.9,925.6 178.8,921.5" fill="#ffffff"/>
<polygon points="189.2,919.2 196.3,923.4 196.3,931.6 189.2,927.5" fill="#ffffff"/>
<polygon points="199.7,925.3 206.8,929.4 206.8,937.7 199.7,933.6" fill="#ffffff"/>
<polygon points="216.7,917.8 223.8,913.7 223.8,922.0 216.7,926.1" fill="#ffffff"/>
<polygon points="227.2,911.8 234.3,907.6 234.3,915.9 227.2,920.0" fill="#ffffff"/>
<polygon points="237.7,905.7 244.8,901.6 244.8,909.9 237.7,914.0" fill="#ffffff"/>
<polygon points="248.1,899.6 255.2,895.5 255.2,903.8 248.1,907.9" fill="#ffffff"/>
<polygon points="258.6,893.6 265.7,889.5 265.7,897.8 258.6,901.9" fill="#ffffff"/>
<polygon points="216.7,929.9 223.8,925.8 223.8,934.1 216.7,938.2" fill="#ffffff"/>
<polygon points="227.2,923.9 234.3,919.8 234.3,928.0 227.2,932.1" fill="#ffffff"/>
<polygon points="237.7,917.8 244.8,913.7 244.8,922.0 237.7,926.1" fill="#ffffff"/>
<polygon points="248.1,911.8 255.2,907.6 255.2,915.9 248.1,920.0" fill="#ffffff"/>
<polygon points="258.6,905.7 265.7,901.6 265.7,909.9 258.6,914.0" fill="#ffffff"/>
<polygon points="217.3,904.8 189.0,888.4 189.0,876.9 217.3,893.2" fill="#004b18"/>
<polygon points="217.3,904.8 253.9,883.6 253.9,872.1 217.3,893.2" fill="#007d3a"/>
<polygon points="217.3,893.2 189.0,876.9 225.5,855.8 253.9,872.1" fill="#00592a"/>
<polygon points="268.6,954.0 249.5,943.0 249.5,926.5 268.6,937.5" fill="#d7262b"/>
<polygon points="268.6,954.0 363.8,899.0 363.8,882.5 268.6,937.5" fill="#ef1c24"/>
<polygon points="268.6,937.5 249.5,926.5 344.8,871.5 363.8,882.5" fill="#f15a24"/>
<path d="M330.8,811.0 L327.0,884.0 A9.5,5.3 0 0 0 346.0,884.0 L342.2,811.0 Z" fill="#0f9147"/>
<ellipse cx="336.5" cy="811.0" rx="6.0" ry="3.7" fill="#0f9147"/>
<ellipse cx="336.5" cy="811.3" rx="4.2" ry="2.3" fill="#00401d"/>
<path d="M303.2,826.4 L299.5,908.0 A9.5,5.3 0 0 0 318.5,908.0 L314.8,826.4 Z" fill="#0f9147"/>
<ellipse cx="309.0" cy="826.4" rx="6.0" ry="3.7" fill="#0f9147"/>
<ellipse cx="309.0" cy="826.7" rx="4.2" ry="2.3" fill="#00401d"/>
<polygon points="277.2,959.0 249.5,943.0 249.5,926.5 277.2,942.5" fill="#d7262b"/>
<polygon points="277.2,959.0 304.9,943.0 304.9,926.5 277.2,942.5" fill="#ef1c24"/>
<polygon points="277.2,942.5 249.5,926.5 277.2,910.5 304.9,926.5" fill="#f15a24"/>
<path d="M275.8,842.0 L272.0,926.0 A9.5,5.3 0 0 0 291.0,926.0 L287.2,842.0 Z" fill="#0f9147"/>
<ellipse cx="281.5" cy="842.0" rx="6.0" ry="3.7" fill="#0f9147"/>
<ellipse cx="281.5" cy="842.3" rx="4.2" ry="2.3" fill="#00401d"/>
<polygon points="332.5,973.5 293.0,950.7 293.0,914.7 332.5,937.5" fill="#1f9a49"/>
<polygon points="332.5,973.5 293.0,950.7 293.0,943.7 332.5,966.5" fill="#005e20"/>
<polygon points="332.5,973.5 390.5,940.0 390.5,904.0 332.5,937.5" fill="#2aaa52"/>
<polygon points="332.5,973.5 390.5,940.0 390.5,933.0 332.5,966.5" fill="#006b2d"/>
<polygon points="332.5,937.5 293.0,914.7 351.0,881.2 390.5,904.0" fill="#8dc63f"/>
<polygon points="299.1,921.8 306.2,925.9 306.2,934.2 299.1,930.1" fill="#ffffff"/>
<polygon points="309.5,927.9 316.6,932.0 316.6,940.2 309.5,936.1" fill="#ffffff"/>
<polygon points="320.0,933.9 327.1,938.0 327.1,946.3 320.0,942.2" fill="#ffffff"/>
<polygon points="299.1,933.9 306.2,938.0 306.2,946.3 299.1,942.2" fill="#ffffff"/>
<polygon points="309.5,940.0 316.6,944.1 316.6,952.4 309.5,948.2" fill="#ffffff"/>
<polygon points="320.0,946.0 327.1,950.1 327.1,958.4 320.0,954.3" fill="#ffffff"/>
<polygon points="337.0,938.5 344.1,934.4 344.1,942.7 337.0,946.8" fill="#ffffff"/>
<polygon points="347.5,932.5 354.6,928.4 354.6,936.6 347.5,940.8" fill="#ffffff"/>
<polygon points="358.0,926.4 365.1,922.3 365.1,930.6 358.0,934.7" fill="#ffffff"/>
<polygon points="368.4,920.4 375.5,916.2 375.5,924.5 368.4,928.6" fill="#ffffff"/>
<polygon points="378.9,914.3 386.0,910.2 386.0,918.5 378.9,922.6" fill="#ffffff"/>
<polygon points="337.0,950.6 344.1,946.5 344.1,954.8 337.0,958.9" fill="#ffffff"/>
<polygon points="347.5,944.6 354.6,940.5 354.6,948.8 347.5,952.9" fill="#ffffff"/>
<polygon points="358.0,938.5 365.1,934.4 365.1,942.7 358.0,946.8" fill="#ffffff"/>
<polygon points="368.4,932.5 375.5,928.4 375.5,936.6 368.4,940.8" fill="#ffffff"/>
<polygon points="378.9,926.4 386.0,922.3 386.0,930.6 378.9,934.7" fill="#ffffff"/>
<polygon points="337.6,925.5 309.3,909.1 309.3,897.6 337.6,914.0" fill="#004b18"/>
<polygon points="337.6,925.5 374.2,904.4 374.2,892.9 337.6,914.0" fill="#007d3a"/>
<polygon points="337.6,914.0 309.3,897.6 345.8,876.5 374.2,892.9" fill="#00592a"/>
<path d="M161.23,699.49 L159.24,699.58 L155.97,700.65 L153.71,701.95 L151.50,703.66 L149.42,705.73 L147.54,708.06 L145.95,710.58 L144.41,713.95 L141.47,715.59 L138.95,718.09 L137.43,720.35 L136.14,723.51 L135.84,725.71 L135.84,732.21 L136.27,731.96 L136.27,732.46 L136.71,732.21 L136.71,732.71 L137.14,732.46 L137.14,732.96 L137.57,732.71 L137.57,733.21 L138.00,732.96 L138.00,733.46 L138.44,733.21 L138.44,733.71 L138.87,733.46 L138.87,733.96 L139.30,733.71 L139.30,734.21 L139.74,733.96 L139.74,734.46 L140.17,734.21 L140.17,734.71 L140.60,734.46 L140.60,734.96 L141.04,734.71 L141.04,735.21 L141.47,734.96 L141.47,735.46 L141.90,735.21 L141.90,735.71 L142.33,735.46 L142.33,735.96 L142.77,735.71 L142.77,736.21 L143.20,735.96 L143.20,736.46 L143.63,736.21 L143.63,736.71 L144.07,736.46 L144.07,736.96 L144.50,736.71 L144.50,737.21 L186.00,713.25 L186.00,706.75 L185.61,705.36 L184.94,704.12 L183.96,703.22 L175.30,698.22 L173.34,697.58 L170.95,697.83 L168.34,698.95 L165.31,701.23 L162.97,699.92 L161.23,699.49Z " fill="#35c5f6"/>
<path d="M173.06,705.83 L172.39,705.31 L171.63,704.92 L170.80,704.64 L169.89,704.49 L168.92,704.47 L167.90,704.58 L166.84,704.81 L165.74,705.17 L164.63,705.65 L163.50,706.24 L162.37,706.95 L161.26,707.76 L160.16,708.66 L159.10,709.66 L158.08,710.73 L157.11,711.87 L156.20,713.06 L155.37,714.30 L154.61,715.58 L153.94,716.87 L153.36,718.18 L153.07,718.95 L152.87,719.02 L152.19,719.31 L151.50,719.67 L150.81,720.10 L150.13,720.59 L149.47,721.14 L148.82,721.75 L148.20,722.40 L147.61,723.09 L147.06,723.82 L146.55,724.58 L146.09,725.35 L145.68,726.14 L145.33,726.93 L145.03,727.72 L144.80,728.51 L144.63,729.27 L144.53,730.01 L144.50,730.71 L144.50,737.21 L148.91,734.66 L154.09,731.68 L155.77,730.70 L184.11,714.34 L186.00,713.25 L186.00,707.75 L186.00,706.75 L185.94,706.79 L185.83,706.10 L185.61,705.36 L185.31,704.70 L184.94,704.12 L184.48,703.63 L183.96,703.22 L183.36,702.91 L182.71,702.69 L182.00,702.58 L181.24,702.56 L180.44,702.64 L179.61,702.83 L178.76,703.11 L177.88,703.48 L177.00,703.95 L176.12,704.50 L175.24,705.13 L174.39,705.84 L173.67,706.51 L173.64,706.47 L173.06,705.83Z " fill="#2ba8e0"/>
<path d="M223.38,708.42 L221.92,708.48 L220.33,708.92 L218.68,709.71 L216.23,711.49 L213.32,714.72 L212.15,716.57 L211.01,719.05 L208.85,720.26 L207.00,722.10 L205.88,723.76 L205.10,725.51 L204.73,727.19 L204.71,732.49 L205.14,732.24 L205.14,732.74 L205.57,732.49 L205.57,732.99 L206.01,732.74 L206.01,733.24 L206.44,732.99 L206.44,733.49 L206.87,733.24 L206.87,733.74 L207.31,733.49 L207.31,733.99 L207.74,733.74 L207.74,734.24 L208.17,733.99 L208.17,734.49 L208.60,734.24 L208.60,734.74 L209.04,734.49 L209.04,734.99 L209.47,734.74 L209.47,735.24 L209.90,734.99 L209.90,735.49 L210.34,735.24 L210.34,735.74 L210.77,735.49 L210.77,735.99 L211.20,735.74 L211.20,736.24 L211.64,735.99 L211.64,736.49 L212.07,736.24 L212.07,736.74 L212.50,736.49 L212.50,736.99 L212.93,736.74 L212.93,737.24 L213.37,736.99 L213.37,737.49 L243.90,719.86 L243.90,715.08 L243.11,713.15 L242.39,712.48 L233.73,707.48 L232.29,707.01 L230.54,707.19 L228.62,708.02 L226.39,709.70 L224.67,708.73 L223.38,708.42Z " fill="#35c5f6"/>
<path d="M234.38,714.40 L233.88,714.02 L233.33,713.73 L232.71,713.53 L232.04,713.42 L231.33,713.40 L230.58,713.48 L229.80,713.65 L229.00,713.92 L228.17,714.27 L227.34,714.71 L226.52,715.22 L225.69,715.82 L224.89,716.49 L224.11,717.22 L223.36,718.01 L222.64,718.84 L221.98,719.72 L221.36,720.64 L220.81,721.57 L220.31,722.53 L219.88,723.48 L219.67,724.05 L219.52,724.10 L219.02,724.32 L218.52,724.58 L218.01,724.90 L217.51,725.26 L217.02,725.67 L216.55,726.11 L216.09,726.59 L215.66,727.10 L215.25,727.64 L214.88,728.19 L214.54,728.76 L214.24,729.34 L213.98,729.93 L213.76,730.51 L213.59,731.08 L213.47,731.64 L213.39,732.19 L213.37,732.71 L213.37,737.49 L216.61,735.61 L220.42,733.42 L221.66,732.70 L242.51,720.66 L243.90,719.86 L243.90,715.82 L243.90,715.08 L243.85,715.11 L243.77,714.60 L243.61,714.06 L243.39,713.57 L243.11,713.15 L242.78,712.78 L242.39,712.48 L241.96,712.25 L241.48,712.10 L240.95,712.01 L240.40,712.00 L239.81,712.06 L239.20,712.19 L238.57,712.40 L237.92,712.67 L237.28,713.02 L236.63,713.42 L235.98,713.89 L235.35,714.41 L234.83,714.90 L234.81,714.87 L234.38,714.40Z " fill="#2ba8e0"/>
<path d="M108.53,771.61 L106.52,771.70 L104.33,772.30 L102.06,773.38 L98.69,775.83 L96.58,777.92 L94.68,780.28 L93.07,782.83 L91.51,786.24 L88.54,787.90 L85.99,790.43 L84.04,793.51 L83.15,795.90 L82.85,798.13 L82.85,804.71 L83.28,804.46 L83.28,804.96 L83.71,804.71 L83.71,805.21 L84.14,804.96 L84.14,805.46 L84.58,805.21 L84.58,805.71 L85.01,805.46 L85.01,805.96 L85.44,805.71 L85.44,806.21 L85.88,805.96 L85.88,806.46 L86.31,806.21 L86.31,806.71 L86.74,806.46 L86.74,806.96 L87.18,806.71 L87.18,807.21 L87.61,806.96 L87.61,807.46 L88.04,807.21 L88.04,807.71 L88.47,807.46 L88.47,807.96 L88.91,807.71 L88.91,808.21 L89.34,807.96 L89.34,808.46 L89.77,808.21 L89.77,808.71 L90.21,808.46 L90.21,808.96 L90.64,808.71 L90.64,809.21 L91.07,808.96 L91.07,809.46 L91.51,809.21 L91.51,809.71 L133.48,785.47 L133.48,778.90 L133.09,777.49 L132.41,776.24 L131.42,775.33 L122.76,770.33 L120.78,769.68 L118.36,769.93 L115.72,771.06 L112.65,773.37 L110.29,772.04 L108.53,771.61Z " fill="#35c5f6"/>
<path d="M120.40,777.97 L119.72,777.44 L118.95,777.04 L118.10,776.76 L117.19,776.61 L116.21,776.59 L115.18,776.70 L114.10,776.93 L112.99,777.30 L111.86,777.78 L110.72,778.38 L109.58,779.10 L108.45,779.92 L107.35,780.83 L106.27,781.84 L105.24,782.92 L104.26,784.07 L103.34,785.28 L102.50,786.54 L101.73,787.83 L101.05,789.14 L100.47,790.45 L100.18,791.24 L99.97,791.30 L99.28,791.60 L98.59,791.96 L97.89,792.40 L97.20,792.90 L96.53,793.46 L95.88,794.07 L95.25,794.73 L94.65,795.43 L94.09,796.17 L93.58,796.93 L93.11,797.71 L92.70,798.51 L92.34,799.31 L92.04,800.11 L91.81,800.90 L91.64,801.67 L91.54,802.42 L91.51,803.13 L91.51,809.71 L95.97,807.13 L101.20,804.11 L102.91,803.12 L131.57,786.57 L133.48,785.47 L133.48,779.91 L133.48,778.90 L133.42,778.93 L133.31,778.23 L133.09,777.49 L132.79,776.83 L132.41,776.24 L131.95,775.74 L131.42,775.33 L130.82,775.01 L130.15,774.79 L129.44,774.68 L128.67,774.66 L127.86,774.74 L127.02,774.93 L126.16,775.21 L125.27,775.59 L124.38,776.06 L123.49,776.62 L122.60,777.26 L121.74,777.98 L121.01,778.66 L120.98,778.61 L120.40,777.97Z " fill="#2ba8e0"/>
<path d="M173.57,766.90 L172.02,766.97 L170.33,767.43 L168.58,768.27 L165.97,770.16 L162.88,773.60 L161.63,775.57 L160.43,778.20 L158.13,779.49 L156.16,781.44 L154.97,783.21 L154.15,785.06 L153.76,786.84 L153.73,792.47 L154.16,792.22 L154.16,792.72 L154.60,792.47 L154.60,792.97 L155.03,792.72 L155.03,793.22 L155.46,792.97 L155.46,793.47 L155.90,793.22 L155.90,793.72 L156.33,793.47 L156.33,793.97 L156.76,793.72 L156.76,794.22 L157.19,793.97 L157.19,794.47 L157.63,794.22 L157.63,794.72 L158.06,794.47 L158.06,794.97 L158.49,794.72 L158.49,795.22 L158.93,794.97 L158.93,795.47 L159.36,795.22 L159.36,795.72 L159.79,795.47 L159.79,795.97 L160.23,795.72 L160.23,796.22 L160.66,795.97 L160.66,796.47 L161.09,796.22 L161.09,796.72 L161.52,796.47 L161.52,796.97 L161.96,796.72 L161.96,797.22 L162.39,796.97 L162.39,797.47 L194.83,778.75 L194.83,773.67 L194.00,771.61 L193.23,770.91 L184.57,765.91 L183.04,765.40 L181.17,765.60 L179.13,766.48 L176.77,768.26 L174.94,767.23 L173.57,766.90Z " fill="#35c5f6"/>
<path d="M184.72,772.95 L184.19,772.54 L183.60,772.23 L182.94,772.02 L182.24,771.90 L181.48,771.88 L180.68,771.97 L179.85,772.15 L178.99,772.43 L178.12,772.80 L177.24,773.27 L176.36,773.82 L175.49,774.45 L174.63,775.16 L173.80,775.94 L173.00,776.78 L172.25,777.67 L171.54,778.60 L170.89,779.57 L170.29,780.57 L169.77,781.58 L169.31,782.60 L169.09,783.20 L168.93,783.25 L168.40,783.48 L167.86,783.76 L167.33,784.10 L166.79,784.49 L166.27,784.92 L165.77,785.39 L165.28,785.90 L164.82,786.44 L164.39,787.01 L163.99,787.60 L163.63,788.21 L163.31,788.82 L163.04,789.44 L162.81,790.06 L162.63,790.67 L162.50,791.27 L162.42,791.84 L162.39,792.39 L162.39,797.47 L165.84,795.48 L169.88,793.15 L171.20,792.39 L193.35,779.60 L194.83,778.75 L194.83,774.45 L194.83,773.67 L194.78,773.69 L194.69,773.15 L194.52,772.58 L194.29,772.07 L194.00,771.61 L193.64,771.22 L193.23,770.91 L192.77,770.66 L192.26,770.50 L191.70,770.40 L191.11,770.39 L190.49,770.46 L189.84,770.60 L189.17,770.82 L188.48,771.11 L187.79,771.48 L187.10,771.91 L186.42,772.40 L185.75,772.96 L185.19,773.48 L185.17,773.44 L184.72,772.95Z " fill="#2ba8e0"/>
<path d="M357.65,723.85 L348.42,729.15 L347.11,730.58 L346.45,732.56 L346.45,738.84 L386.52,761.97 L386.52,761.47 L386.95,761.72 L386.95,761.22 L387.38,761.47 L387.38,760.97 L387.82,761.22 L387.82,760.72 L388.25,760.97 L388.25,760.47 L388.68,760.72 L388.68,760.22 L389.12,760.47 L389.12,759.97 L389.55,760.22 L389.55,759.72 L389.98,759.97 L389.98,759.47 L390.41,759.72 L390.41,759.22 L390.85,759.47 L390.85,758.97 L391.28,759.22 L391.28,758.72 L391.71,758.97 L391.71,758.47 L392.15,758.72 L392.15,758.22 L392.58,758.47 L392.58,757.97 L393.01,758.22 L393.01,757.72 L393.45,757.97 L393.45,757.47 L393.88,757.72 L393.88,757.22 L394.31,757.47 L394.31,756.97 L394.74,757.22 L394.74,756.72 L395.18,756.97 L395.14,750.01 L394.66,747.81 L393.64,745.52 L392.17,743.34 L390.38,741.46 L388.42,740.03 L386.90,739.34 L385.42,736.08 L383.00,732.50 L381.08,730.37 L377.92,727.75 L374.67,726.03 L371.60,725.36 L368.98,725.79 L366.73,727.06 L364.65,725.39 L362.95,724.40 L361.28,723.77 L359.70,723.51 L357.65,723.85Z " fill="#35c5f6"/>
<path d="M358.94,731.67 L359.59,731.17 L360.32,730.79 L361.13,730.52 L362.00,730.38 L362.94,730.36 L363.92,730.46 L364.95,730.69 L366.01,731.03 L367.08,731.49 L368.17,732.07 L369.26,732.75 L370.34,733.53 L371.40,734.41 L372.42,735.37 L373.41,736.40 L374.34,737.50 L375.22,738.66 L376.02,739.85 L376.76,741.08 L377.40,742.33 L377.96,743.59 L378.24,744.34 L378.44,744.40 L379.10,744.68 L379.76,745.03 L380.42,745.45 L381.08,745.92 L381.72,746.46 L382.35,747.04 L382.94,747.67 L383.51,748.34 L384.05,749.04 L384.54,749.77 L384.98,750.52 L385.38,751.28 L385.72,752.05 L386.00,752.81 L386.23,753.56 L386.39,754.30 L386.48,755.01 L386.52,755.69 L386.52,761.97 L382.26,759.51 L377.26,756.63 L375.63,755.69 L348.27,739.89 L346.45,738.84 L346.45,733.53 L346.45,732.56 L346.51,732.59 L346.62,731.93 L346.82,731.22 L347.11,730.58 L347.47,730.02 L347.91,729.54 L348.42,729.15 L348.99,728.85 L349.63,728.64 L350.31,728.53 L351.04,728.51 L351.81,728.59 L352.62,728.77 L353.44,729.04 L354.29,729.40 L355.14,729.85 L355.99,730.39 L356.83,731.00 L357.66,731.68 L358.35,732.33 L358.38,732.28 L358.94,731.67Z " fill="#2ba8e0"/>
<path d="M303.58,715.66 L294.43,720.92 L293.31,722.14 L292.74,723.84 L292.74,729.22 L327.09,749.05 L327.09,748.55 L327.52,748.80 L327.52,748.30 L327.95,748.55 L327.95,748.05 L328.39,748.30 L328.39,747.80 L328.82,748.05 L328.82,747.55 L329.25,747.80 L329.25,747.30 L329.68,747.55 L329.68,747.05 L330.12,747.30 L330.12,746.80 L330.55,747.05 L330.55,746.55 L330.98,746.80 L330.98,746.30 L331.42,746.55 L331.42,746.05 L331.85,746.30 L331.85,745.80 L332.28,746.05 L332.28,745.55 L332.72,745.80 L332.72,745.30 L333.15,745.55 L333.15,745.05 L333.58,745.30 L333.58,744.80 L334.01,745.05 L334.01,744.55 L334.45,744.80 L334.45,744.30 L334.88,744.55 L334.88,744.05 L335.31,744.30 L335.31,743.80 L335.75,744.05 L335.72,738.08 L335.31,736.19 L334.43,734.23 L333.17,732.36 L331.64,730.75 L329.95,729.53 L328.65,728.93 L327.38,726.14 L325.31,723.07 L323.66,721.24 L320.96,719.00 L318.17,717.53 L315.54,716.95 L313.29,717.32 L311.35,718.41 L309.58,716.97 L308.12,716.13 L305.34,715.37 L303.58,715.66Z " fill="#35c5f6"/>
<path d="M303.45,723.08 L304.01,722.65 L304.63,722.32 L305.32,722.09 L306.07,721.97 L306.88,721.95 L307.72,722.04 L308.60,722.23 L309.51,722.53 L310.43,722.92 L311.36,723.42 L312.29,724.00 L313.22,724.67 L314.12,725.42 L315.00,726.24 L315.85,727.13 L316.65,728.07 L317.40,729.06 L318.09,730.09 L318.72,731.14 L319.28,732.21 L319.76,733.29 L319.99,733.93 L320.16,733.99 L320.73,734.23 L321.29,734.53 L321.86,734.88 L322.42,735.29 L322.97,735.75 L323.51,736.25 L324.02,736.79 L324.51,737.36 L324.97,737.97 L325.39,738.59 L325.77,739.23 L326.11,739.88 L326.40,740.54 L326.65,741.19 L326.84,741.84 L326.97,742.47 L327.06,743.08 L327.09,743.67 L327.09,749.05 L323.43,746.94 L319.15,744.46 L317.76,743.66 L294.30,730.12 L292.74,729.22 L292.74,724.66 L292.74,723.84 L292.79,723.87 L292.88,723.29 L293.06,722.69 L293.31,722.14 L293.62,721.66 L294.00,721.25 L294.43,720.92 L294.92,720.66 L295.46,720.48 L296.05,720.38 L296.68,720.37 L297.34,720.44 L298.03,720.59 L298.74,720.82 L299.46,721.13 L300.19,721.52 L300.92,721.97 L301.64,722.50 L302.35,723.09 L302.94,723.64 L302.97,723.60 L303.45,723.08Z " fill="#2ba8e0"/>
<path d="M369.62,768.05 L360.45,773.32 L359.28,774.59 L358.69,776.36 L358.69,781.94 L394.37,802.54 L394.37,802.04 L394.80,802.29 L394.80,801.79 L395.24,802.04 L395.24,801.54 L395.67,801.79 L395.67,801.29 L396.10,801.54 L396.10,801.04 L396.54,801.29 L396.54,800.79 L396.97,801.04 L396.97,800.54 L397.40,800.79 L397.40,800.29 L397.83,800.54 L397.83,800.04 L398.27,800.29 L398.27,799.79 L398.70,800.04 L398.70,799.54 L399.13,799.79 L399.13,799.29 L399.57,799.54 L399.57,799.04 L400.00,799.29 L400.00,798.79 L400.43,799.04 L400.43,798.54 L400.87,798.79 L400.87,798.29 L401.30,798.54 L401.30,798.04 L401.73,798.29 L401.73,797.79 L402.16,798.04 L402.16,797.54 L402.60,797.79 L402.60,797.29 L403.03,797.54 L403.00,791.35 L402.57,789.39 L401.66,787.35 L400.36,785.41 L398.76,783.73 L397.01,782.46 L395.66,781.84 L394.34,778.95 L392.19,775.76 L389.56,773.00 L387.66,771.53 L384.77,769.99 L382.03,769.39 L379.70,769.78 L377.70,770.91 L375.85,769.42 L374.33,768.54 L371.44,767.75 L369.62,768.05Z " fill="#35c5f6"/>
<path d="M369.81,775.57 L370.39,775.12 L371.04,774.78 L371.76,774.54 L372.54,774.41 L373.37,774.39 L374.25,774.49 L375.16,774.69 L376.11,774.99 L377.07,775.41 L378.03,775.92 L379.00,776.53 L379.96,777.22 L380.90,778.00 L381.82,778.86 L382.70,779.78 L383.53,780.76 L384.31,781.78 L385.03,782.85 L385.68,783.95 L386.26,785.06 L386.75,786.18 L387.00,786.84 L387.18,786.90 L387.76,787.15 L388.35,787.46 L388.94,787.83 L389.53,788.26 L390.10,788.73 L390.65,789.25 L391.19,789.81 L391.70,790.41 L392.17,791.03 L392.61,791.68 L393.00,792.35 L393.36,793.03 L393.66,793.71 L393.91,794.39 L394.11,795.06 L394.25,795.72 L394.34,796.35 L394.37,796.96 L394.37,802.54 L390.58,800.35 L386.13,797.79 L384.68,796.95 L360.31,782.88 L358.69,781.94 L358.69,777.22 L358.69,776.36 L358.74,776.39 L358.84,775.79 L359.02,775.16 L359.28,774.59 L359.60,774.10 L359.99,773.67 L360.45,773.32 L360.96,773.05 L361.52,772.87 L362.13,772.77 L362.78,772.75 L363.47,772.82 L364.18,772.98 L364.92,773.22 L365.67,773.54 L366.43,773.95 L367.19,774.42 L367.94,774.97 L368.67,775.58 L369.29,776.15 L369.31,776.11 L369.81,775.57Z " fill="#2ba8e0"/>
<polyline points="188,160 188,404.5 263,451.5 271,444" stroke="#555555" stroke-width="1.4" fill="none"/>
<rect x="185" y="157.4" width="6" height="6" fill="#555555"/>
<rect x="185" y="238.0" width="6" height="6" fill="#555555"/>
<rect x="185" y="306.0" width="6" height="6" fill="#555555"/>
<rect x="185" y="364.0" width="6" height="6" fill="#555555"/>
<rect x="268" y="441" width="5.5" height="5.5" fill="#555555" transform="rotate(45 270.75 443.75)"/>
<polyline points="466,95 580.9,95 579.8,434 363,543" stroke="#555555" stroke-width="1.4" fill="none"/>
<polygon points="359.5,546.5 361,539 368,544.5" fill="#555555" stroke="#555555" stroke-width="1" stroke-linejoin="round"/>
<line x1="405.4" y1="120.4" x2="405.4" y2="178" stroke="#555555" stroke-width="1.4" fill="none"/>
<circle cx="405.4" cy="120.4" r="2.2" fill="#555555"/>
<circle cx="405.4" cy="178" r="2.2" fill="#555555"/>
<line x1="284.3" y1="680.3" x2="284.3" y2="705" stroke="#555555" stroke-width="1.4" fill="none"/>
<circle cx="284.3" cy="680.3" r="2.2" fill="#555555"/>
<circle cx="284.3" cy="705" r="2.2" fill="#555555"/>
<polyline points="521.8,629 521.8,943.3 419,998.6 408.4,991" stroke="#555555" stroke-width="1.4" fill="none"/>
<rect x="519" y="629.0" width="6" height="6" fill="#555555"/>
<rect x="519" y="665.6" width="6" height="6" fill="#555555"/>
<rect x="519" y="700.0" width="6" height="6" fill="#555555"/>
<rect x="519" y="736.0" width="6" height="6" fill="#555555"/>
<rect x="519" y="769.6" width="6" height="6" fill="#555555"/>
<circle cx="408.4" cy="991" r="2.5" fill="#555555"/>
<rect x="191.2" y="560.0" width="4.0" height="2.0" fill="#0b6a36" opacity="0.55"/>
<rect x="174.0" y="569.0" width="4.0" height="1.5" fill="#0b6a36" opacity="0.55"/>
<rect x="183.5" y="568.0" width="4.5" height="4.0" fill="#0b6a36" opacity="0.55"/>
<rect x="191.0" y="568.0" width="4.0" height="4.5" fill="#0b6a36" opacity="0.55"/>
<rect x="199.0" y="570.0" width="5.0" height="1.0" fill="#0b6a36" opacity="0.55"/>
<rect x="208.0" y="569.0" width="13.5" height="2.5" fill="#0b6a36" opacity="0.55"/>
<rect x="185.0" y="577.0" width="3.5" height="3.0" fill="#0b6a36" opacity="0.55"/>
<rect x="191.0" y="576.0" width="4.0" height="4.0" fill="#0b6a36" opacity="0.55"/>
<rect x="198.0" y="576.0" width="2.5" height="5.0" fill="#0b6a36" opacity="0.55"/>
<rect x="209.0" y="576.0" width="5.0" height="2.0" fill="#0b6a36" opacity="0.55"/>
<rect x="223.0" y="578.0" width="3.0" height="1.0" fill="#0b6a36" opacity="0.55"/>
<rect x="173.0" y="582.0" width="1.0" height="1.0" fill="#0b6a36" opacity="0.55"/>
<rect x="284.0" y="567.5" width="10.0" height="1.5" fill="#0b6a36" opacity="0.55"/>
<rect x="302.0" y="567.5" width="4.0" height="1.0" fill="#0b6a36" opacity="0.55"/>
<rect x="313.0" y="567.0" width="1.0" height="1.0" fill="#0b6a36" opacity="0.55"/>
<rect x="320.0" y="560.0" width="6.0" height="6.0" fill="#0b6a36" opacity="0.55"/>
<rect x="323.5" y="570.0" width="7.5" height="1.5" fill="#0b6a36" opacity="0.55"/>
<rect x="333.0" y="566.5" width="1.0" height="1.0" fill="#0b6a36" opacity="0.55"/>
<rect x="338.0" y="570.5" width="1.0" height="1.0" fill="#0b6a36" opacity="0.55"/>
<rect x="347.0" y="567.0" width="1.0" height="1.0" fill="#0b6a36" opacity="0.55"/>
<rect x="357.0" y="570.0" width="1.0" height="1.0" fill="#0b6a36" opacity="0.55"/>
<rect x="358.5" y="567.0" width="1.0" height="1.0" fill="#0b6a36" opacity="0.55"/>
<rect x="355.0" y="576.0" width="2.0" height="1.0" fill="#0b6a36" opacity="0.55"/>
<rect x="362.0" y="576.0" width="1.0" height="1.0" fill="#0b6a36" opacity="0.55"/>
<rect x="371.0" y="568.0" width="1.0" height="1.0" fill="#0b6a36" opacity="0.55"/>
<rect x="376.0" y="573.0" width="1.0" height="1.0" fill="#0b6a36" opacity="0.55"/>
<rect x="383.0" y="572.0" width="1.0" height="1.0" fill="#0b6a36" opacity="0.55"/>
<rect x="376.0" y="577.0" width="1.0" height="1.0" fill="#0b6a36" opacity="0.55"/>
<rect x="385.0" y="562.0" width="5.0" height="5.0" fill="#0b6a36" opacity="0.55"/>
<rect x="369.0" y="590.0" width="4.0" height="4.0" fill="#0b6a36" opacity="0.55"/>
<rect x="374.0" y="595.0" width="5.0" height="6.0" fill="#0b6a36" opacity="0.55"/>
<rect x="378.0" y="588.0" width="6.0" height="8.0" fill="#0b6a36" opacity="0.55"/>
<rect x="383.0" y="592.0" width="4.0" height="8.0" fill="#0b6a36" opacity="0.55"/>
<rect x="387.0" y="598.0" width="3.0" height="4.0" fill="#0b6a36" opacity="0.55"/>
<rect x="371.0" y="600.0" width="3.0" height="2.0" fill="#0b6a36" opacity="0.55"/>
<rect x="208" y="601" width="13" height="1" fill="#555" opacity="0.5"/>
<text transform="translate(25.50,144.80) scale(0.8601,1)" font-family="Liberation Sans" font-weight="bold" font-size="18.00" fill="#474747" stroke="#474747" stroke-width="0.70">VOLATILE ORGANIC</text>
<text transform="translate(72.70,165.50) scale(0.8690,1)" font-family="Liberation Sans" font-weight="bold" font-size="18.43" fill="#474747" stroke="#474747" stroke-width="0.70">COMPOUNDS</text>
<text transform="translate(146.40,185.00) scale(0.8675,1)" font-family="Liberation Sans" font-size="17.14" fill="#474747" stroke="#474747" stroke-width="0.35">VOC</text>
<text transform="translate(8.40,224.60) scale(0.9433,1)" font-family="Liberation Sans" font-weight="bold" font-size="16.57" fill="#474747" stroke="#474747" stroke-width="0.70">VOLATILE INORGANIC</text>
<text transform="translate(72.70,245.00) scale(0.8897,1)" font-family="Liberation Sans" font-weight="bold" font-size="18.00" fill="#474747" stroke="#474747" stroke-width="0.70">COMPOUNDS</text>
<text transform="translate(152.40,265.00) scale(0.8822,1)" font-family="Liberation Sans" font-size="17.86" fill="#474747" stroke="#474747" stroke-width="0.35">VIC</text>
<text transform="translate(69.19,305.50) scale(0.9027,1)" font-family="Liberation Sans" font-weight="bold" font-size="17.86" fill="#474747" stroke="#474747" stroke-width="0.70">OIL VAPOURS</text>
<text transform="translate(63.61,324.60) scale(0.9110,1)" font-family="Liberation Sans" font-weight="bold" font-size="17.14" fill="#474747" stroke="#474747" stroke-width="0.70">AND AEROSOL</text>
<text transform="translate(91.23,364.60) scale(0.8686,1)" font-family="Liberation Sans" font-weight="bold" font-size="18.00" fill="#474747" stroke="#474747" stroke-width="0.70">PARTICLES</text>
<text transform="translate(95.60,385.00) scale(0.8889,1)" font-family="Liberation Sans" font-weight="bold" font-size="18.00" fill="#474747" stroke="#474747" stroke-width="0.70">AND DUST</text>
<text transform="translate(531.41,634.80) scale(0.9021,1)" font-family="Liberation Sans" font-weight="bold" font-size="17.57" fill="#474747" stroke="#474747" stroke-width="0.70">COMBUSTION</text>
<text transform="translate(531.60,670.70) scale(0.9163,1)" font-family="Liberation Sans" font-weight="bold" font-size="17.43" fill="#474747" stroke="#474747" stroke-width="0.70">ADSORPTION</text>
<text transform="translate(531.60,707.00) scale(0.8929,1)" font-family="Liberation Sans" font-weight="bold" font-size="17.71" fill="#474747" stroke="#474747" stroke-width="0.70">ABSORPTION</text>
<text transform="translate(530.86,742.90) scale(0.8680,1)" font-family="Liberation Sans" font-weight="bold" font-size="17.57" fill="#474747" stroke="#474747" stroke-width="0.70">RECOVERY</text>
<text transform="translate(530.81,778.60) scale(0.9292,1)" font-family="Liberation Sans" font-weight="bold" font-size="17.14" fill="#474747" stroke="#474747" stroke-width="0.70">FILTRATION</text>
<text transform="translate(352.44,92.60) scale(0.8579,1)" font-family="Liberation Sans" font-size="20.57" fill="#474747" stroke="#474747" stroke-width="0.35">INDUSTRIAL</text>
<text transform="translate(356.69,110.40) scale(0.8694,1)" font-family="Liberation Sans" font-size="20.14" fill="#474747" stroke="#474747" stroke-width="0.35">EMISSIONS</text>
<text transform="translate(221.36,653.80) scale(0.9307,1)" font-family="Liberation Sans" font-size="19.14" fill="#474747" stroke="#474747" stroke-width="0.35">PURIFICATION</text>
<text transform="translate(217.58,672.20) scale(0.8809,1)" font-family="Liberation Sans" font-size="19.14" fill="#474747" stroke="#474747" stroke-width="0.35">TECHNOLOGIES</text>
</svg></body></html>
